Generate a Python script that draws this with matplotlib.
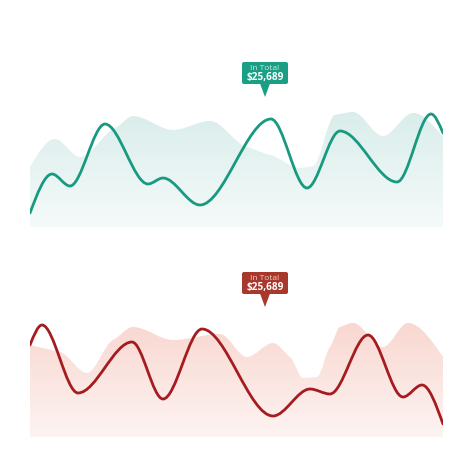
import numpy as np
import matplotlib
matplotlib.use('Agg')
import matplotlib.pyplot as plt
from matplotlib.path import Path
from matplotlib.patches import PathPatch, FancyBboxPatch, Polygon
from matplotlib.colors import LinearSegmentedColormap

# top panel (green)
green_line_x = [0, 22, 40, 75, 118, 133, 170, 241, 277, 310, 367, 401, 413]
green_line_y = [14, 53, 41, 103, 43, 49, 22, 108, 39, 96, 45, 113, 94]
green_area_x = [0, 25, 50, 85, 103, 143, 180, 217, 240, 270, 283, 305, 323, 353, 383, 413]
green_area_y = [60, 88, 70, 99, 111, 97, 106, 80, 72, 59, 61, 112, 115, 91, 114, 90]

# bottom panel (red)
red_line_x = [0, 12, 48, 102, 133, 172, 243, 280, 300, 338, 373, 392, 413]
red_line_y = [92, 112, 44, 95, 38, 108, 21, 48, 43, 102, 40, 52, 13]
red_area_x = [0, 30, 57, 83, 103, 143, 190, 217, 243, 260, 273, 287, 300, 310, 323, 353, 378, 413]
red_area_y = [92, 85, 64, 97, 110, 97, 103, 80, 94, 80, 59, 60, 90, 110, 114, 90, 114, 80]

badge_title = 'In Total'
badge_value = '$25,689'
badge_x = 235


def monotone_path(x, y):
    # smooth curve through the points (monotone cubic, like d3 curveMonotoneX)
    x = np.asarray(x, float)
    y = np.asarray(y, float)
    n = len(x)
    h = np.diff(x)
    s = np.diff(y) / h
    m = np.zeros(n)
    for i in range(1, n - 1):
        if s[i - 1] * s[i] <= 0:
            m[i] = 0
        else:
            p = (s[i - 1] * h[i] + s[i] * h[i - 1]) / (h[i - 1] + h[i])
            m[i] = np.sign(s[i - 1]) * min(abs(s[i - 1]), abs(s[i]), 0.5 * abs(p))
    m[0] = (3 * s[0] - m[1]) / 2 if n > 2 else s[0]
    m[-1] = (3 * s[-1] - m[-2]) / 2 if n > 2 else s[-1]
    verts = [(x[0], y[0])]
    codes = [Path.MOVETO]
    for i in range(n - 1):
        d = h[i] / 3
        verts += [(x[i] + d, y[i] + m[i] * d), (x[i + 1] - d, y[i + 1] - m[i + 1] * d), (x[i + 1], y[i + 1])]
        codes += [Path.CURVE4] * 3
    return verts, codes


def draw_panel(ax, lx, ly, axx, axy, line_color, top_col, bot_col, badge_col, title_col):
    ax.set_xlim(0, 413)
    ax.set_ylim(0, 130)
    ax.axis('off')

    verts, codes = monotone_path(axx, axy)
    verts += [(axx[-1], 0), (axx[0], 0), (axx[0], axy[0])]
    codes += [Path.LINETO, Path.LINETO, Path.CLOSEPOLY]
    area = PathPatch(Path(verts, codes), facecolor='none', edgecolor='none')
    ax.add_patch(area)
    cmap = LinearSegmentedColormap.from_list('g', [bot_col, top_col])
    grad = np.linspace(0, 1, 256).reshape(-1, 1)
    im = ax.imshow(grad, cmap=cmap, extent=[0, 413, 0, max(axy) + 5], origin='lower',
                   aspect='auto', zorder=1)
    im.set_clip_path(area)

    verts, codes = monotone_path(lx, ly)
    ax.add_patch(PathPatch(Path(verts, codes), facecolor='none', edgecolor=line_color,
                           lw=2.0, capstyle='round', zorder=3))

    box = FancyBboxPatch((badge_x - 23, 143), 46, 22, boxstyle='round,pad=0,rounding_size=2',
                         facecolor=badge_col, edgecolor='none', clip_on=False, zorder=4)
    ax.add_patch(box)
    tri = Polygon([(badge_x - 5, 143.5), (badge_x + 5, 143.5), (badge_x, 130)], closed=True,
                  facecolor=badge_col, edgecolor='none', clip_on=False, zorder=4)
    ax.add_patch(tri)
    ax.text(badge_x, 158, badge_title, ha='center', va='center', fontsize=6.0,
            color=title_col, family='Open Sans', clip_on=False, zorder=5)
    ax.text(badge_x, 149.5, badge_value, ha='center', va='center', fontsize=7.2,
            color='white', family='Open Sans', fontweight='bold', clip_on=False, zorder=5)


fig = plt.figure(figsize=(4.74, 4.74), dpi=100)
ax1 = fig.add_axes([30 / 474, (474 - 227) / 474, 413 / 474, 130 / 474])
ax2 = fig.add_axes([30 / 474, (474 - 437) / 474, 413 / 474, 130 / 474])

draw_panel(ax1, green_line_x, green_line_y, green_area_x, green_area_y,
           '#189a80', '#d8edea', '#f5fafa', '#1a9e84', '#cdebe3')
draw_panel(ax2, red_line_x, red_line_y, red_area_x, red_area_y,
           '#a51b1f', '#f9d6cf', '#fdf4f2', '#a8382b', '#efcfc9')

fig.savefig('out.png', dpi=100)
